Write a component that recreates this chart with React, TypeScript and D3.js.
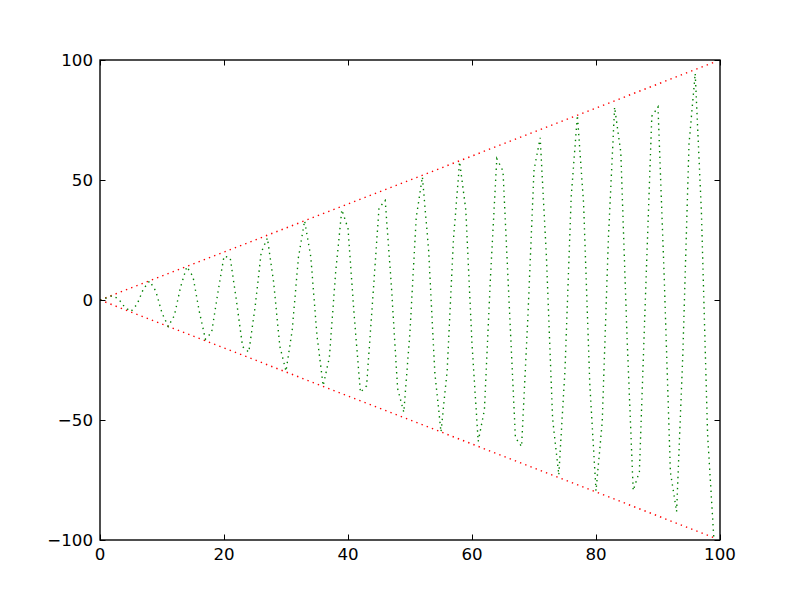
import { useEffect, useRef } from 'react';
import * as d3 from 'd3';

const xs: number[] = d3.range(0, 100);
const wave: number[] = [
	0, 0.84, 1.82, 0.42, -3.03, -4.79, -1.68, 4.6, 7.91, 3.71,
	-5.44, -11.0, -6.44, 5.46, 13.87, 9.75, -4.61, -16.34, -13.52, 2.85,
	18.26, 17.57, -0.2, -19.46, -21.73, -3.31, 19.83, 25.82, 7.59, -19.25,
	-29.64, -12.52, 17.64, 33.0, 17.99, -14.99, -35.71, -23.81, 11.26, 37.59,
	29.8, -6.5, -38.49, -35.77, 0.78, 38.29, 41.48, 5.81, -36.88, -46.74,
	-13.12, 34.18, 51.3, 20.98, -30.18, -54.99, -29.21, 24.86, 57.59, 37.56,
	-18.29, -58.93, -45.83, 10.55, 58.88, 53.74, -1.75, -57.32, -61.06, -7.92,
	54.17, 67.55, 18.27, -49.42, -72.9, -29.09, 43.02, 76.96, 40.09, -35.11,
	-79.51, -51.02, 25.68, 80.37, 61.6, -14.97, -79.42, -71.5, 3.12, 76.55,
	80.46, 9.66, -71.71, -88.19, -23.06, 64.91, 94.43, 36.82, -56.19, -98.92,
];
// the two envelope lines
const envX: number[] = [0, 99];
const upper: number[] = [0, 99];
const lower: number[] = [0, -99];

const xTicks: number[] = [0, 20, 40, 60, 80, 100];
const yTicks: number[] = [-100, -50, 0, 50, 100];

const W = 800;
const H = 600;
const FONT = '"DejaVu Sans", sans-serif';

export default function App() {
	const svgRef = useRef<SVGSVGElement>(null);

	useEffect(() => {
		document.body.style.margin = '0';
		if (!svgRef.current) return;
		const svg = d3.select(svgRef.current);
		svg.selectAll('*').remove();

		const margin = { top: 60, right: 80, bottom: 60, left: 100 };
		const x = d3.scaleLinear().domain([0, 100]).range([margin.left, W - margin.right]);
		const y = d3.scaleLinear().domain([-100, 100]).range([H - margin.bottom, margin.top]);

		svg.append('rect').attr('width', W).attr('height', H).attr('fill', '#fff');

		const clipId = 'plot-clip';
		svg
			.append('clipPath')
			.attr('id', clipId)
			.append('rect')
			.attr('x', margin.left)
			.attr('y', margin.top)
			.attr('width', W - margin.left - margin.right)
			.attr('height', H - margin.top - margin.bottom);

		const plot = svg.append('g').attr('clip-path', `url(#${clipId})`);
		const line = d3
			.line<[number, number]>()
			.x((d) => x(d[0]))
			.y((d) => y(d[1]));

		const dash = '1.39,4.17';

		plot
			.append('path')
			.datum(envX.map((v, i) => [v, upper[i]] as [number, number]))
			.attr('d', line)
			.attr('fill', 'none')
			.attr('stroke', '#ff0000')
			.attr('stroke-width', 1.39)
			.attr('stroke-dasharray', dash);

		plot
			.append('path')
			.datum(envX.map((v, i) => [v, lower[i]] as [number, number]))
			.attr('d', line)
			.attr('fill', 'none')
			.attr('stroke', '#ff0000')
			.attr('stroke-width', 1.39)
			.attr('stroke-dasharray', dash);

		plot
			.append('path')
			.datum(xs.map((v, i) => [v, wave[i]] as [number, number]))
			.attr('d', line)
			.attr('fill', 'none')
			.attr('stroke', '#008000')
			.attr('stroke-width', 1.39)
			.attr('stroke-dasharray', dash);

		// ticks point inward on all four sides
		const tickLen = 5.5;
		const ticks = svg.append('g').attr('stroke', '#000').attr('stroke-width', 1);
		xTicks.forEach((t) => {
			const px = Math.round(x(t)) + 0.5;
			ticks.append('line').attr('x1', px).attr('x2', px).attr('y1', y(-100)).attr('y2', y(-100) - tickLen);
			ticks.append('line').attr('x1', px).attr('x2', px).attr('y1', y(100)).attr('y2', y(100) + tickLen);
		});
		yTicks.forEach((t) => {
			const py = Math.round(y(t)) + 0.5;
			ticks.append('line').attr('x1', x(0)).attr('x2', x(0) + tickLen).attr('y1', py).attr('y2', py);
			ticks.append('line').attr('x1', x(100)).attr('x2', x(100) - tickLen).attr('y1', py).attr('y2', py);
		});

		svg
			.append('rect')
			.attr('x', x(0))
			.attr('y', y(100))
			.attr('width', x(100) - x(0))
			.attr('height', y(-100) - y(100))
			.attr('fill', 'none')
			.attr('stroke', '#000')
			.attr('stroke-width', 1.39);

		const fmt = (v: number) => (v < 0 ? '\u2212' + Math.abs(v) : String(v));

		svg
			.append('g')
			.selectAll('text')
			.data(xTicks)
			.enter()
			.append('text')
			.attr('x', (d) => x(d))
			.attr('y', y(-100) + 7)
			.attr('dy', '0.76em')
			.attr('text-anchor', 'middle')
			.style('font-family', FONT)
			.style('font-size', '16.67px')
			.text(fmt);

		svg
			.append('g')
			.selectAll('text')
			.data(yTicks)
			.enter()
			.append('text')
			.attr('x', x(0) - 7)
			.attr('y', (d) => y(d))
			.attr('dy', '0.36em')
			.attr('text-anchor', 'end')
			.style('font-family', FONT)
			.style('font-size', '16.67px')
			.text(fmt);
	}, []);

	return <svg ref={svgRef} width={W} height={H} style={{ display: 'block' }} />;
}
